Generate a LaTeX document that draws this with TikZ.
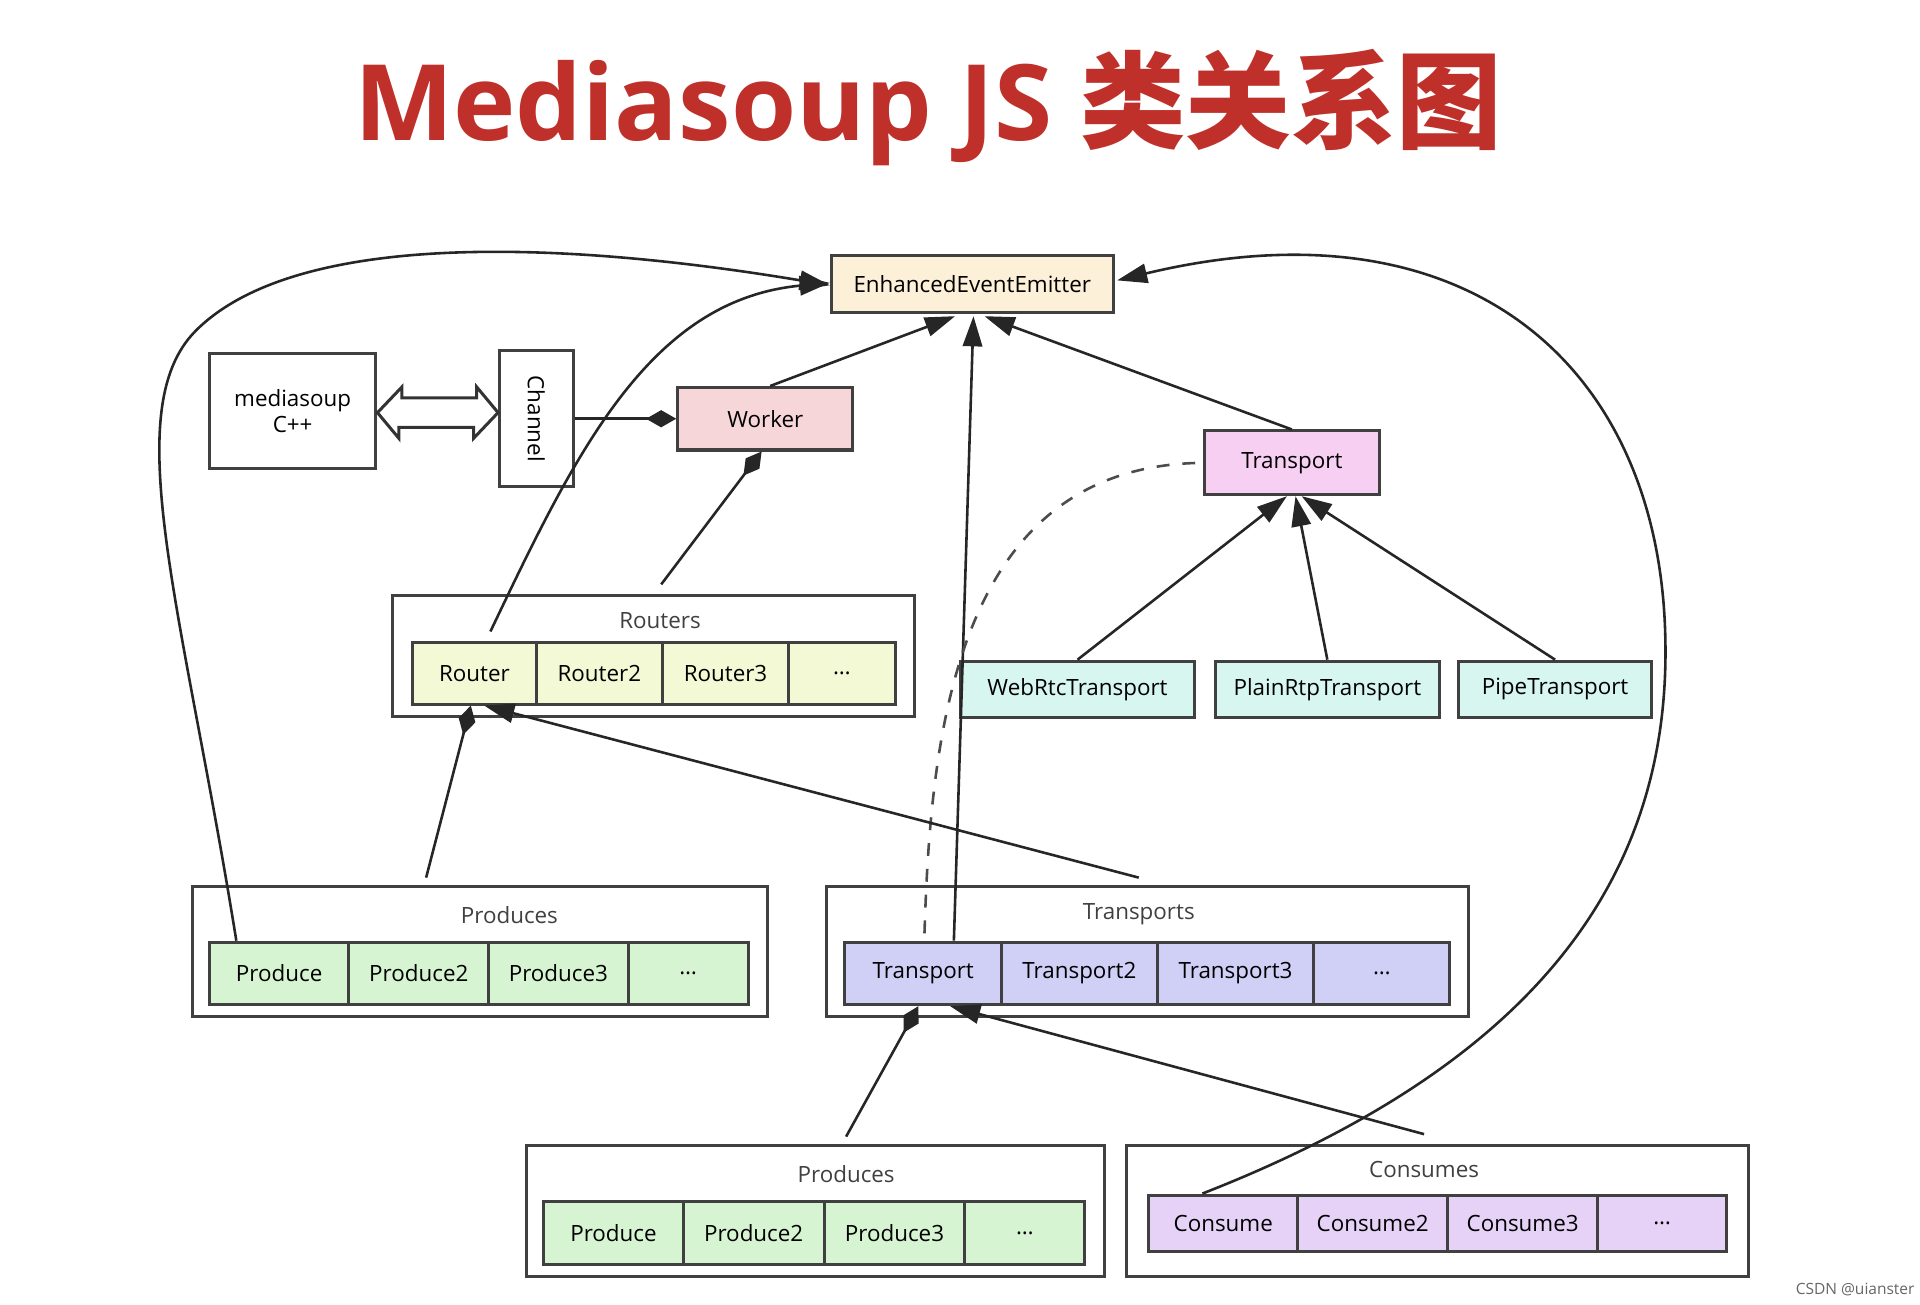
\documentclass[tikz,border=0pt]{standalone}
\usepackage{fontspec}
\setmainfont{Open Sans}
\newfontfamily\cjk{Noto Sans CJK SC}
\usetikzlibrary{arrows.meta,calc}
\definecolor{ttl}{HTML}{C0302A}
\definecolor{cEEE}{HTML}{FDF0D8}
\definecolor{cWrk}{HTML}{F7D6D9}
\definecolor{cTr}{HTML}{F6CFF2}
\definecolor{cRt}{HTML}{F3F8D5}
\definecolor{cTt}{HTML}{D6F6EF}
\definecolor{cPr}{HTML}{D7F4D2}
\definecolor{cTs}{HTML}{D0D0F7}
\definecolor{cCs}{HTML}{E7D2F7}
\newcommand{\ddd}{\ldots}
\tikzset{
  bx/.style={draw=black!75,line width=0.7pt,inner sep=0pt,font=\fontsize{5.2}{6}\selectfont},
  grp/.style={draw=black!75,line width=0.7pt},
  glab/.style={font=\fontsize{5.2}{6}\selectfont,text=black!75},
  ln/.style={line width=0.6pt,black!85},
  inh/.style={ln,-{Triangle[length=7pt,width=4.5pt]}},
  dia/.style={ln,-{Diamond[length=7pt,width=4pt]}},
}
\begin{document}
\begin{tikzpicture}[x=0.01cm,y=-0.01cm]
\useasboundingbox (0,0) rectangle (1568,1065);
\node[text=ttl,font=\fontsize{24.5}{28}\selectfont\bfseries] (title) at (758,88) {Mediasoup JS {\cjk\bfseries 类关系图}};
% boxes
\node[bx,fill=cEEE,minimum width=2.3cm,minimum height=0.46cm] (eee) at (794,232) {EnhancedEventEmitter};
\node[bx,align=center,minimum width=1.36cm,minimum height=0.94cm] (cpp) at (239,336) {mediasoup\\C++};
\node[bx,minimum width=0.6cm,minimum height=1.11cm] (chan) at (438,342) {};
\node[font=\fontsize{5.2}{6}\selectfont,rotate=-90] (chant) at (438,342) {Channel};
\node[bx,fill=cWrk,minimum width=1.43cm,minimum height=0.51cm] (wrk) at (625,342) {Worker};
\node[bx,fill=cTr,minimum width=1.43cm,minimum height=0.52cm] (tr) at (1055,378) {Transport};
\node[bx,fill=cTt,minimum width=1.91cm,minimum height=0.46cm] (web) at (880,563) {WebRtcTransport};
\node[bx,fill=cTt,minimum width=1.83cm,minimum height=0.46cm] (plain) at (1084,563) {PlainRtpTransport};
\node[bx,fill=cTt,minimum width=1.57cm,minimum height=0.46cm] (pipe) at (1270,563) {PipeTransport};
% hollow double arrow
\draw[draw=black!80,fill=white,line width=0.7pt,line join=miter] (cpp.east |- 0,337) coordinate (da0)
  -- ++(20,-21) -- ++(0,9) -- ++(61,0) -- ++(0,-9) -- (chan.west |- 0,337) coordinate (da1)
  -- ++(-20,21) -- ++(0,-9) -- ++(-61,0) -- ++(0,9) -- cycle;
% groups
\node[grp,minimum width=4.26cm,minimum height=0.99cm] (grt) at (534,536) {};
\node[glab] (grtl) at (539,507) {Routers};
\node[grp,minimum width=4.70cm,minimum height=1.06cm] (gp1) at (392,777) {};
\node[glab] (gp1l) at (416,747) {Produces};
\node[grp,minimum width=5.24cm,minimum height=1.06cm] (gts) at (937,777) {};
\node[glab] (gtsl) at (930,747) {Transports};
\node[grp,minimum width=4.72cm,minimum height=1.07cm] (gp2) at (666,989) {};
\node[glab] (gp2l) at (691,959) {Produces};
\node[grp,minimum width=5.07cm,minimum height=1.07cm] (gcs) at (1174,989) {};
\node[glab] (gcsl) at (1163,955) {Consumes};
% cells
\foreach \n/\a/\b/\t in {r1/337/438/Router,r2/438/541/Router2,r3/541/644/Router3,r4/644/731/\ddd}
  \node[bx,fill=cRt,minimum width={(\b-\a)*0.01cm},minimum height=0.5cm] (\n) at ({(\a+\b)/2},550) {\t};
\foreach \n/\a/\b/\t in {p1/171/285/Produce,p2/285/399/Produce2,p3/399/513/Produce3,p4/513/611/\ddd}
  \node[bx,fill=cPr,minimum width={(\b-\a)*0.01cm},minimum height=0.51cm] (\n) at ({(\a+\b)/2},795) {\t};
\foreach \n/\a/\b/\t in {t1/690/818/Transport,t2/818/945/Transport2,t3/945/1073/Transport3,t4/1073/1184/\ddd}
  \node[bx,fill=cTs,minimum width={(\b-\a)*0.01cm},minimum height=0.51cm] (\n) at ({(\a+\b)/2},795) {\t};
\foreach \n/\a/\b/\t in {q1/444/558/Produce,q2/558/673/Produce2,q3/673/788/Produce3,q4/788/886/\ddd}
  \node[bx,fill=cPr,minimum width={(\b-\a)*0.01cm},minimum height=0.51cm] (\n) at ({(\a+\b)/2},1007) {\t};
\foreach \n/\a/\b/\t in {c1/938/1060/Consume,c2/1060/1182/Consume2,c3/1182/1305/Consume3,c4/1305/1410/\ddd}
  \node[bx,fill=cCs,minimum width={(\b-\a)*0.01cm},minimum height=0.46cm] (\n) at ({(\a+\b)/2},999) {\t};
\node[font=\fontsize{3.6}{5}\selectfont,text=black!60] (csdn) at (1515,1053) {CSDN @uianster};
% edges
\draw[inh] ($(wrk.north)+(4,0)$) -- ($(eee.south)+(-14,2)$);
\draw[inh] ($(t1.north)+(25,0)$) -- ($(eee.south)+(1,2)$);
\draw[inh] (tr.north) -- ($(eee.south)+(10,2)$);
\draw[inh] ($(p1.north)+(-35,0)$) .. controls (150,500) and (95,335) .. (160,270)
  .. controls (240,190) and (450,195) .. ($(eee.west)+(0,1)$);
\draw[inh] ($(r1.north)+(13,-8)$) .. controls (470,370) and (530,245) .. ($(eee.west)+(0,-1)$);
\draw[inh] ($(c1.north)+(-17,0)$) .. controls (1250,870) and (1365,720) .. (1360,520)
  .. controls (1355,300) and (1200,160) .. ($(eee.east)+(2,-3)$);
\draw[dia] ($(grt.north)+(6,-8)$) -- ($(wrk.south)+(-3,0)$);
\draw[dia] (chan.east) -- (wrk.west);
\draw[inh] (web.north) -- ($(tr.south)+(-4,0)$);
\draw[inh] (plain.north) -- ($(tr.south)+(3,0)$);
\draw[inh] (pipe.north) -- ($(tr.south)+(8,0)$);
\draw[ln,dashed,black!70] ($(t1.north)+(1,-6)$) .. controls (760,600) and (780,380) .. (tr.west);
\draw[dia] ($(gp1.north)+(-44,-6)$) -- ($(r1.south)+(-3,0)$);
\draw[inh] ($(gts.north)+(-7,-6)$) -- ($(r1.south)+(8,0)$);
\draw[dia] ($(gp2.north)+(25,-6)$) -- ($(t1.south)+(-4,0)$);
\draw[inh] ($(gcs.north)+(-11,-8)$) -- ($(t1.south)+(22,0)$);
\end{tikzpicture}
\end{document}
